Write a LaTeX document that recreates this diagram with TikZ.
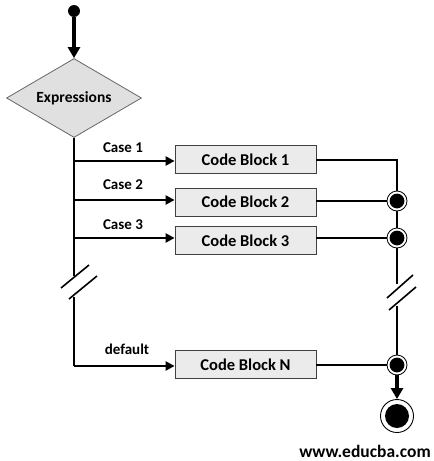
\documentclass[tikz,border=0pt]{standalone}
\usepackage{fontspec}
\setmainfont{Carlito}
\usetikzlibrary{shapes.geometric,arrows.meta}
\begin{document}
\begin{tikzpicture}[x=1pt,y=-1pt,
  thickline/.style={line width=2.8pt},
  thinline/.style={line width=1.6pt},
  arr/.style={thickline,-{Triangle[length=9pt,width=9pt]}},
  bigarr/.style={line width=3.2pt,-{Triangle[length=11pt,width=12pt]}},
  codebox/.style={draw=black!75,fill=black!8,line width=0.8pt,minimum width=141pt,minimum height=28pt,inner sep=0pt,font=\bfseries\fontsize{16.5}{18}\selectfont},
  lbl/.style={font=\bfseries\fontsize{15}{17}\selectfont,inner sep=0pt},
  junc/.style={circle,draw=black,line width=0.8pt,fill=white,minimum size=20pt,inner sep=0pt,
    path picture={\fill[black] (path picture bounding box.center) circle (7.4pt);}},
  brk/.style={line width=1.6pt}]
\useasboundingbox (0,0) rectangle (434,461);
% start
\node[circle,fill=black,minimum size=12pt,inner sep=0pt] (start) at (74,11) {};
\node[diamond,draw=black!60,fill=black!12,line width=0.8pt,minimum width=135pt,minimum height=79pt,inner sep=0pt,aspect=1.7,font=\bfseries\fontsize{15.5}{17}\selectfont] (d) at (74,98) {Expressions};
\draw[bigarr] (start) -- (d.north);
% code blocks
\node[codebox] (cb1) at (245.5,159.5) {Code Block 1};
\node[codebox] (cb2) at (245.5,202) {Code Block 2};
\node[codebox] (cb3) at (245.5,240.5) {Code Block 3};
\node[codebox] (cbn) at (245.5,364.5) {Code Block N};
% left breaks
\coordinate (lb1) at (74,276);
\coordinate (lb2) at (74,297);
\coordinate (dl) at (74,366);
\draw[thickline] (d.south) -- (lb1);
\draw[thickline] (lb2) -- (dl);
\draw[brk] (61,288) -- (89,265);
\draw[brk] (69,299) -- (97,276);
% case arrows
\draw[arr] (d.south |- 0,161) coordinate (c1) -- (cb1.west |- c1);
\draw[arr] (d.south |- 0,200) coordinate (c2) -- (cb2.west |- c2);
\draw[arr] (d.south |- 0,238) coordinate (c3) -- (cb3.west |- c3);
\draw[arr] (dl) -- (cbn.west |- dl);
\node[lbl] at (123,148) {Case 1};
\node[lbl] at (123,185) {Case 2};
\node[lbl] at (123,225) {Case 3};
\node[lbl] at (127,349) {default};
% right side
\node[junc] (j2) at (397,201) {};
\node[junc] (j3) at (397,238) {};
\node[junc] (jn) at (397,365) {};
\node[circle,draw=black,line width=0.9pt,fill=white,minimum size=33pt,inner sep=0pt,
  path picture={\fill[black] (path picture bounding box.center) circle (12pt);}] (end) at (397,416) {};
\coordinate (rc) at (397,160);
\coordinate (rb1) at (397,284);
\coordinate (rb2) at (397,306);
\draw[thinline] (cb1.east |- rc) -- (rc) -- (j2.north);
\draw[thinline] (cb2.east |- j2) -- (j2.west);
\draw[thinline] (j2.south) -- (j3.north);
\draw[thinline] (cb3.east |- j3) -- (j3.west);
\draw[thinline] (j3.south) -- (rb1);
\draw[thinline] (rb2) -- (jn.north);
\draw[thinline] (cbn.east |- jn) -- (jn.west);
\draw[brk] (387,298) -- (413,275);
\draw[brk] (389,310) -- (416,287);
\draw[bigarr] (jn.south) -- (end.north);
\node[font=\bfseries\fontsize{17.5}{19}\selectfont,inner sep=0pt] (wm) at (365,451) {www.educba.com};
\end{tikzpicture}
\end{document}
